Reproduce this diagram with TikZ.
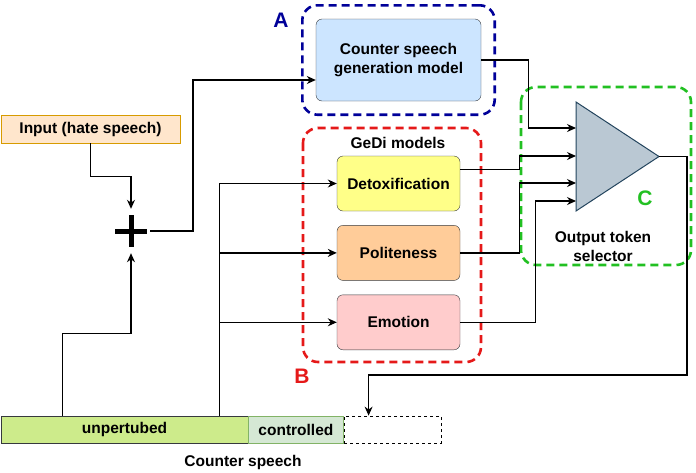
\documentclass[tikz,border=0pt]{standalone}
\usepackage{fontspec}
\setmainfont{Liberation Sans}
\usetikzlibrary{positioning, calc, arrows.meta, fit}

\definecolor{csblue}{HTML}{CCE5FF}
\definecolor{inorange}{HTML}{FFE6CC}
\definecolor{inborder}{HTML}{D79B00}
\definecolor{detoxyellow}{HTML}{FFFF88}
\definecolor{politeorange}{HTML}{FFCC99}
\definecolor{emotionpink}{HTML}{FFCCCC}
\definecolor{selgray}{HTML}{BAC8D3}
\definecolor{selborder}{HTML}{23445D}
\definecolor{unpertgreen}{HTML}{CDEB8B}
\definecolor{ctrlgreen}{HTML}{D5E8D4}
\definecolor{ctrlborder}{HTML}{82B366}
\definecolor{boxborder}{HTML}{36393D}
\definecolor{grpblue}{HTML}{000099}
\definecolor{grpred}{HTML}{E51919}
\definecolor{grpgreen}{HTML}{22C022}

\tikzset{
    txt/.style={font=\bfseries\fontsize{15.5}{19}\selectfont, align=center},
    model/.style={txt, draw=boxborder, rounded corners=6pt, minimum width=123pt, minimum height=55pt, inner sep=0pt},
    bar/.style={txt, draw=boxborder, minimum height=27pt, inner sep=0pt},
    conn/.style={line width=1.2pt, -{Stealth[length=9pt, width=8pt]}},
    wire/.style={line width=1.2pt},
    group/.style={line width=2.6pt, dash pattern=on 8pt off 5pt, rounded corners=15pt},
    grplabel/.style={font=\bfseries\fontsize{21}{21}\selectfont},
    plusnode/.style={minimum width=38pt, minimum height=44pt, inner sep=0pt,
        path picture={\draw[line width=5pt]
            ([xshift=3pt]path picture bounding box.west) -- ([xshift=-3pt]path picture bounding box.east)
            ([yshift=-6pt]path picture bounding box.north) -- ([yshift=6pt]path picture bounding box.south);}}
}

\begin{document}
\begin{tikzpicture}[x=1pt, y=-1pt, node distance=14pt]
    \useasboundingbox (0,0) rectangle (696,472);

    \node[model, fill=csblue, minimum width=165pt, minimum height=82pt] (csgen) at (398.5,60) {Counter speech\\generation model};
    \node[txt, draw=inborder, fill=inorange, minimum width=179pt, minimum height=28pt, inner sep=0pt] (input) at (90.5,129) {Input (hate speech)};
    \node[plusnode] (plus) at (131,231) {};

    % GeDi models
    \node[txt] (gedi) at (398,143) {GeDi models};
    \node[model, fill=detoxyellow] (detox) at (398.5,183.5) {Detoxification};
    \node[model, fill=politeorange, below=of detox] (polite) {Politeness};
    \node[model, fill=emotionpink, below=of polite] (emotion) {Emotion};

    % output token selector
    \coordinate (sel1) at (576,128);
    \coordinate (sel2) at (576,156);
    \coordinate (sel3) at (576,183);
    \coordinate (sel4) at (576,201);
    \coordinate (selout) at (659,156.5);
    \draw[fill=selgray, draw=selborder, line width=1pt] (576,102) -- (selout) -- (576,211) -- cycle;
    \node[txt] (seltxt) at (603,246) {Output token\\selector};

    % counter speech bar
    \node[bar, fill=unpertgreen, minimum width=247pt] (unpert) at (124.5,429.5) {unpertubed};
    \node[bar, fill=ctrlgreen, draw=ctrlborder, minimum width=95pt, right=0pt of unpert] (ctrl) {controlled};
    \node[bar, draw=black, dashed, line width=0.8pt, minimum width=97pt, right=0pt of ctrl] (blank) {};
    \node[txt] (cslabel) at (243,462) {Counter speech};

    % groups
    \node[group, draw=grpblue, fit=(csgen), inner sep=13.5pt] (grpA) {};
    \draw[group, draw=grpred] (303,128) rectangle (481,362);
    \draw[group, draw=grpgreen] (521,87) rectangle (691,265);
    \node[grplabel, text=grpblue] (labA) at (281,20) {A};
    \node[grplabel, text=grpred] (labB) at (302,376) {B};
    \node[grplabel, text=grpgreen] (labC) at (645,198) {C};

    % connections
    \draw[conn] (input.south) -- ++(0,33) -| (plus.north);
    \draw[conn] (plus.east) -| (193,150) |- ([yshift=-20pt]csgen.west);
    \draw[conn] ([xshift=62pt]unpert.north west) -- ++(0,-82) -| (plus.south);

    \coordinate (split) at ([xshift=219pt]unpert.north west);
    \draw[conn] (split) |- (detox.west);
    \draw[conn] (split |- polite) -- (polite.west);
    \draw[conn] (split |- emotion) -- (emotion.west);

    \draw[conn] (csgen.east) -- ++(47,0) |- (sel1);
    \draw[conn] ([yshift=14pt]detox.east) -- ++(59,0) |- (sel2);
    \draw[conn] (polite.east) -- ++(59,0) |- (sel3);
    \draw[conn] (emotion.east) -- ++(75,0) |- (sel4);

    \draw[conn] (selout) -| (687,375) -| ([xshift=25pt]blank.north west);
\end{tikzpicture}
\end{document}
